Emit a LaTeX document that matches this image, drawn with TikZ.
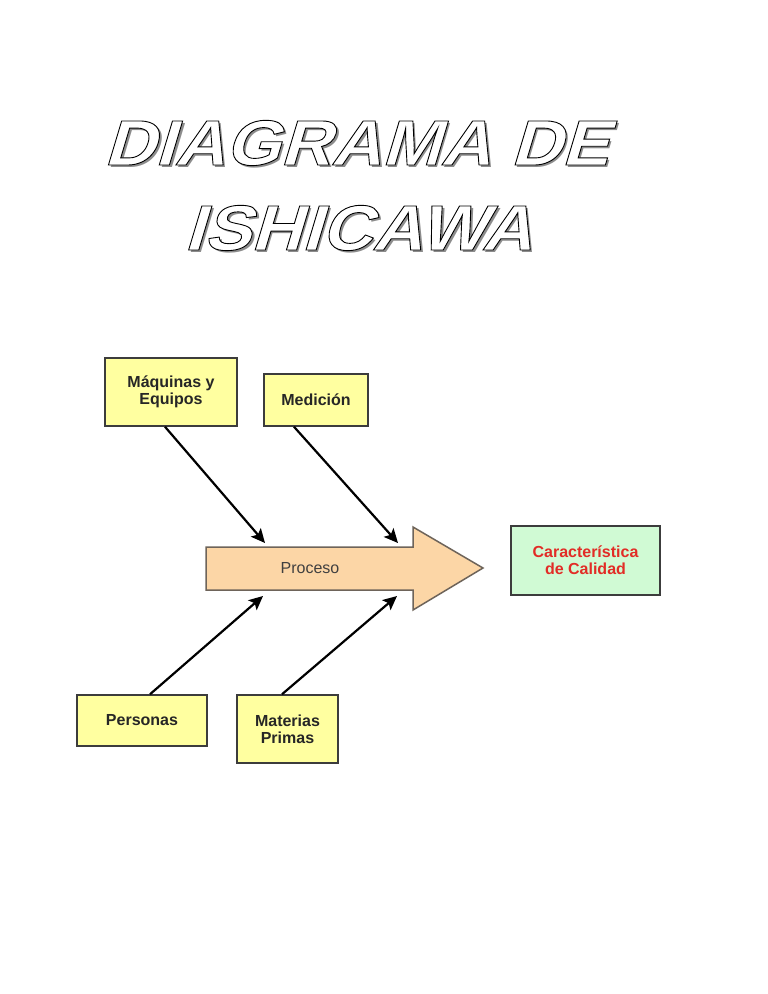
\documentclass[tikz,border=0pt]{standalone}
\usepackage{fontspec}
\setmainfont{Liberation Sans}
\newfontfamily\titlefont[FakeSlant=0.3,FakeStretch=1.1]{Liberation Sans Bold}
\usetikzlibrary{arrows.meta}
\definecolor{boxyellow}{RGB}{255,255,160}
\definecolor{boxgreen}{RGB}{208,250,212}
\definecolor{peach}{RGB}{252,214,166}
\definecolor{redtxt}{RGB}{226,44,38}
\definecolor{bordr}{RGB}{60,60,60}
\definecolor{arrbord}{RGB}{110,100,90}
\newcommand{\outlinetxt}[1]{%
  \rlap{\hspace{2.5pt}\raisebox{-2.5pt}{\textcolor{black!45}{#1}}}%
  {\color{white}\special{pdf:literal direct 2 Tr 0.9 w 0 G}#1\special{pdf:literal direct 0 Tr}}}
\begin{document}
\begin{tikzpicture}[x=1pt,y=-1pt,
  cause/.style={draw=bordr,line width=1.5pt,fill=boxyellow,inner sep=0pt,
    align=center,font=\fontsize{16}{17}\selectfont\bfseries,text=black!85},
  effect/.style={draw=bordr,line width=1.5pt,fill=boxgreen,inner sep=0pt,
    align=center,font=\fontsize{16}{17}\selectfont\bfseries,text=redtxt},
  bone/.style={line width=2.2pt,-{Stealth[length=14pt,width=13pt,inset=3pt]}},
  titletxt/.style={font=\titlefont\fontsize{64}{64}\selectfont,inner sep=0pt,anchor=base}]
\useasboundingbox (0,0) rectangle (768,994);
\fill[white] (0,0) rectangle (768,994);
% title
\node[titletxt] (t1) at (356,165) {\outlinetxt{DIAGRAMA DE}};
\node[titletxt] (t2) at (358,250) {\outlinetxt{ISHICAWA}};
% process arrow
\path[draw=arrbord,line width=1.5pt,fill=peach]
  (206,547) -- (413,547) -- (413,527) -- (483,568) -- (413,610) -- (413,590) -- (206,590) -- cycle;
\node[font=\fontsize{16}{17}\selectfont,text=black!75] (proc) at (310,568) {Proceso};
\coordinate (a1) at (265,543);
\coordinate (a2) at (398,543);
\coordinate (b1) at (263,596);
\coordinate (b2) at (397,596);
% boxes
\node[cause,minimum width=132pt,minimum height=68pt] (maq) at (171,392) {Máquinas y\\Equipos};
\node[cause,minimum width=104pt,minimum height=52pt] (med) at (316,400) {Medición};
\node[cause,minimum width=130pt,minimum height=51pt] (per) at (142,720.5) {Personas};
\node[cause,minimum width=101pt,minimum height=68pt] (mat) at (287.5,729) {Materias\\Primas};
\node[effect,minimum width=149pt,minimum height=69pt] (car) at (585.5,560.5) {Característica\\de Calidad};
% bones
\draw[bone] ([xshift=-6pt]maq.south) -- (a1);
\draw[bone] ([xshift=-22pt]med.south) -- (a2);
\draw[bone] ([xshift=8pt]per.north) -- (b1);
\draw[bone] ([xshift=-5.5pt]mat.north) -- (b2);
\end{tikzpicture}
\end{document}
